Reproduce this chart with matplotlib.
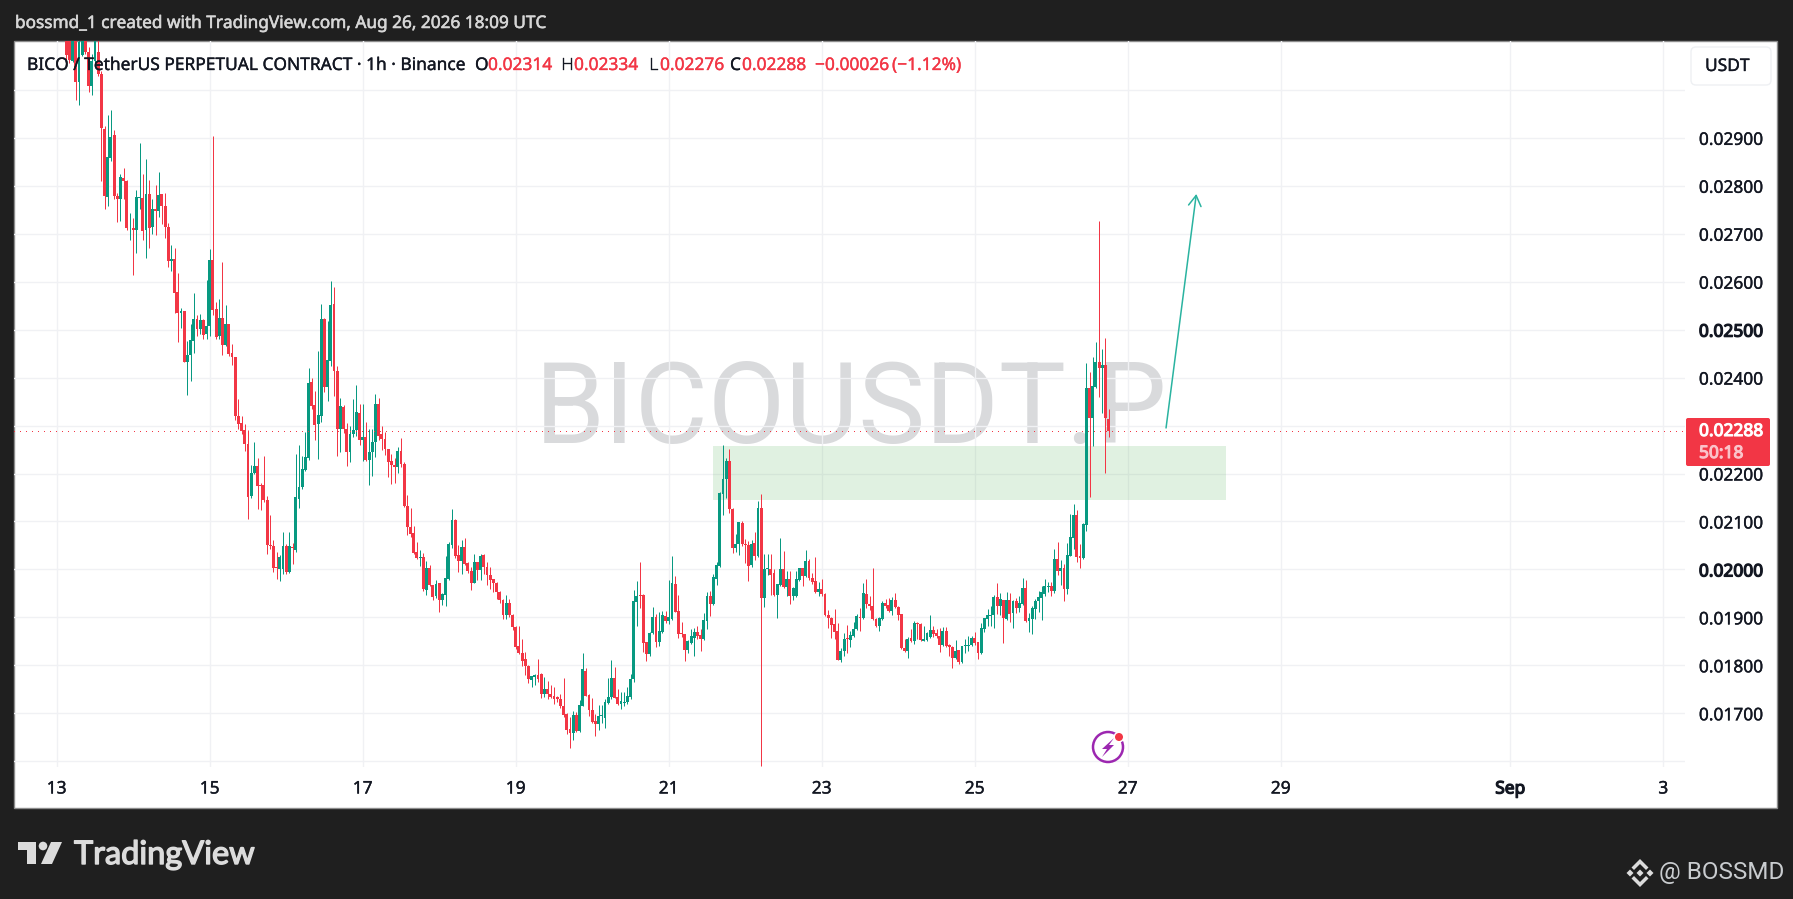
import matplotlib
matplotlib.use("Agg")
import matplotlib.pyplot as plt
import matplotlib.patheffects as pe
import numpy as np
from matplotlib.patches import Rectangle, FancyBboxPatch, Polygon, Circle

# hourly candles, prices in 1e-5 USDT, first candle is Aug 13 03:00
first_hour = 3
opens = [3105,3110,3061,3110,3016,3073,3110,3080,3008,3060,
 3080,3034,2919,2777,2858,2905,2779,2773,2817,2810,
 2711,2713,2708,2775,2775,2708,2782,2714,2752,2747,
 2782,2758,2715,2643,2648,2579,2534,2539,2433,2448,
 2477,2523,2501,2520,2491,2508,2645,2544,2486,2525,
 2468,2511,2451,2444,2319,2305,2290,2262,2154,2201,
 2215,2176,2176,2145,2051,2049,2005,2001,2001,2049,
 1995,2047,2041,2147,2171,2208,2232,2390,2343,2304,
 2321,2522,2381,2435,2553,2413,2293,2338,2293,2244,
 2283,2290,2327,2269,2276,2229,2244,2265,2345,2283,
 2272,2251,2227,2218,2213,2247,2220,2132,2088,2076,
 2036,2023,2026,1958,2002,1968,1944,1971,1936,1947,
 1981,2052,2104,2031,2017,2047,2014,1997,1972,2015,
 1998,2031,2005,1988,1980,1972,1953,1937,1906,1931,
 1906,1880,1840,1826,1813,1798,1770,1775,1779,1782,
 1741,1751,1741,1736,1734,1730,1716,1699,1668,1659,
 1697,1664,1716,1789,1739,1707,1683,1677,1695,1691,
 1722,1733,1773,1734,1720,1722,1723,1734,1772,1933,
 1947,1947,1848,1824,1868,1900,1849,1870,1902,1893,
 1897,1970,1914,1867,1866,1831,1847,1858,1869,1863,
 1855,1893,1945,1928,1981,2008,2157,2188,2226,2127,
 2045,2054,2097,2054,2051,2010,2055,2029,2129,1941,
 2000,2001,1992,1947,1968,2001,1963,1980,1945,1945,
 1978,2003,1986,2017,1983,1975,1952,1959,1949,1905,
 1899,1886,1871,1812,1829,1856,1852,1862,1875,1901,
 1898,1949,1928,1924,1897,1881,1897,1929,1926,1914,
 1936,1922,1907,1837,1829,1856,1850,1888,1886,1851,
 1852,1860,1874,1867,1861,1843,1872,1843,1838,1816,
 1831,1806,1840,1841,1843,1856,1848,1826,1876,1897,
 1903,1904,1942,1924,1936,1897,1936,1909,1935,1920,
 1928,1961,1893,1897,1918,1934,1941,1949,1964,1965,
 1954,2022,1997,2004,1959,2029,2065,2113,2027,2024,
 2093,2379,2316,2381,2433,2421,2426,2314]
highs = [3120,3130,3130,3130,3125,3130,3130,3090,3075,3125,
 3115,3040,2925,2947,2959,2917,2785,2824,2838,2813,
 2744,2733,2792,2890,2824,2855,2813,2773,2801,2829,
 2782,2784,2723,2676,2671,2619,2546,2539,2477,2511,
 2577,2530,2532,2522,2603,2668,2903,2558,2563,2642,
 2551,2511,2470,2444,2355,2320,2303,2290,2217,2265,
 2232,2180,2236,2153,2114,2061,2036,2030,2079,2054,
 2079,2056,2241,2260,2236,2286,2421,2400,2372,2456,
 2554,2525,2518,2601,2588,2425,2358,2342,2306,2300,
 2355,2384,2345,2345,2308,2293,2292,2366,2358,2300,
 2286,2252,2240,2232,2255,2274,2224,2156,2128,2090,
 2057,2040,2035,2018,2010,1968,1979,1971,1950,2029,
 2057,2127,2106,2050,2062,2065,2016,2005,2033,2016,
 2033,2033,2015,2006,1981,1973,1955,1939,1946,1938,
 1908,1882,1881,1854,1827,1801,1778,1782,1813,1784,
 1775,1768,1759,1754,1737,1741,1773,1700,1692,1704,
 1702,1727,1826,1794,1740,1732,1699,1718,1718,1729,
 1773,1811,1796,1751,1744,1744,1754,1782,1957,1975,
 2015,1949,1848,1869,1922,1907,1911,1914,1914,1977,
 2027,1987,1947,1890,1866,1852,1875,1877,1881,1875,
 1909,1952,1956,1990,2015,2162,2259,2233,2251,2129,
 2074,2099,2101,2063,2060,2062,2079,2143,2157,2033,
 2033,2033,2001,1970,2065,2038,1996,1997,1963,1996,
 2004,2003,2040,2022,1992,2025,1973,1981,1951,1915,
 1900,1918,1888,1837,1868,1885,1872,1890,1907,1920,
 1971,1980,1945,2003,1898,1900,1935,1938,1940,1942,
 1951,1924,1908,1855,1859,1876,1893,1891,1888,1883,
 1869,1905,1881,1876,1877,1879,1879,1845,1841,1852,
 1831,1841,1855,1862,1861,1869,1849,1888,1899,1917,
 1924,1947,1972,1950,1937,1952,1951,1936,1940,1945,
 1982,1978,1909,1923,1938,1956,1966,1980,1973,1973,
 2042,2058,2020,2011,2056,2115,2136,2124,2053,2097,
 2431,2412,2444,2475,2727,2459,2483,2334]
lows = [3063,3056,3058,2978,2969,3070,3075,2995,2990,3050,
 3030,2811,2751,2758,2851,2773,2724,2727,2772,2708,
 2687,2615,2659,2751,2687,2649,2670,2699,2697,2736,
 2720,2692,2631,2622,2534,2475,2504,2432,2364,2393,
 2451,2487,2490,2480,2480,2487,2530,2480,2480,2447,
 2465,2445,2426,2312,2293,2283,2248,2106,2149,2199,
 2127,2124,2140,2033,2043,1995,1981,1975,1991,1991,
 1993,2011,2036,2129,2167,2206,2228,2335,2269,2231,
 2308,2370,2352,2425,2362,2236,2244,2285,2215,2224,
 2276,2278,2260,2227,2226,2177,2195,2234,2270,2250,
 2238,2193,2179,2180,2201,2213,2130,2071,2068,2033,
 2021,2008,1956,1947,1965,1936,1940,1911,1925,1924,
 1978,2045,2024,1995,1990,2010,1993,1957,1971,1977,
 1978,1991,1968,1960,1953,1939,1929,1896,1897,1901,
 1873,1834,1823,1798,1780,1763,1754,1758,1765,1732,
 1735,1730,1732,1720,1723,1711,1692,1657,1628,1645,
 1661,1662,1715,1736,1695,1680,1652,1665,1680,1670,
 1720,1730,1731,1718,1709,1715,1720,1730,1766,1883,
 1920,1827,1810,1819,1866,1838,1841,1868,1888,1886,
 1895,1911,1858,1860,1810,1825,1845,1819,1855,1830,
 1853,1876,1902,1925,1968,2005,2113,2148,2117,2034,
 2037,2030,2048,2013,1975,2005,2020,2025,1591,1922,
 1988,1947,1945,1899,1966,1961,1945,1928,1936,1943,
 1976,1966,1984,1978,1970,1950,1945,1945,1902,1877,
 1857,1855,1812,1807,1819,1825,1838,1860,1873,1871,
 1896,1919,1915,1895,1879,1872,1895,1920,1911,1906,
 1919,1895,1834,1827,1816,1848,1845,1855,1850,1850,
 1850,1858,1860,1856,1827,1841,1839,1819,1795,1814,
 1803,1804,1825,1830,1841,1843,1813,1824,1870,1883,
 1883,1878,1907,1905,1847,1895,1890,1878,1909,1911,
 1926,1891,1870,1866,1897,1911,1895,1945,1952,1945,
 1950,1989,1968,1935,1949,2027,2042,2016,2004,2022,
 2081,2151,2258,2378,2360,2327,2202,2276]
closes = [3073,3063,3110,3016,3100,3110,3080,3008,3060,3105,
 3034,2920,2779,2860,2902,2779,2773,2819,2810,2711,
 2713,2708,2777,2777,2706,2782,2713,2752,2747,2780,
 2758,2715,2643,2648,2577,2534,2538,2433,2447,2478,
 2523,2501,2520,2489,2508,2645,2541,2484,2525,2468,
 2511,2449,2444,2319,2303,2288,2262,2152,2201,2215,
 2175,2175,2145,2050,2049,2004,2002,2026,2049,1995,
 2049,2045,2151,2172,2210,2234,2389,2341,2301,2322,
 2523,2381,2436,2551,2414,2293,2340,2293,2244,2283,
 2290,2329,2269,2276,2229,2244,2265,2345,2279,2271,
 2251,2225,2217,2213,2248,2220,2132,2088,2074,2035,
 2024,2025,1959,2002,1967,1943,1970,1936,1948,1982,
 2054,2104,2029,2017,2047,2012,1996,1972,2015,1998,
 2029,2005,1988,1979,1972,1952,1937,1906,1931,1906,
 1880,1839,1826,1810,1798,1772,1777,1779,1772,1741,
 1751,1741,1734,1729,1729,1715,1697,1666,1659,1697,
 1664,1718,1793,1737,1706,1682,1677,1695,1696,1723,
 1734,1773,1732,1720,1725,1724,1736,1772,1935,1945,
 1945,1847,1824,1868,1900,1849,1871,1904,1893,1900,
 1972,1912,1865,1865,1831,1850,1861,1869,1862,1855,
 1895,1945,1928,1985,2009,2160,2188,2226,2126,2045,
 2054,2098,2053,2051,2008,2054,2027,2129,1940,2001,
 2001,1989,1947,1970,2001,1963,1980,1945,1961,1980,
 2003,1986,2017,1982,1974,1952,1959,1949,1904,1898,
 1884,1869,1812,1829,1855,1854,1863,1875,1902,1899,
 1951,1928,1923,1897,1881,1898,1929,1924,1913,1936,
 1921,1906,1836,1829,1855,1850,1888,1886,1852,1854,
 1868,1874,1866,1861,1843,1871,1841,1838,1816,1829,
 1806,1840,1841,1843,1856,1847,1826,1878,1898,1904,
 1905,1943,1924,1938,1899,1936,1908,1935,1920,1929,
 1961,1893,1898,1920,1935,1942,1952,1965,1966,1954,
 2022,1997,2002,1959,2030,2067,2113,2025,2024,2095,
 2379,2316,2383,2433,2421,2426,2315,2288]

# x axis, hours since Aug 13 00:00
date_hours = [0, 48, 96, 144, 192, 240, 288, 336, 384, 456, 504]
date_labels = ['13', '15', '17', '19', '21', '23', '25', '27', '29', 'Sep', '3']
price_ticks = [1600, 1700, 1800, 1900, 2000, 2100, 2200, 2300, 2400, 2500, 2600, 2700, 2800, 2900, 3000]
no_label = [1600, 2300, 3000]
bold_prices = [2000, 2500]

last_price = 2288
zone_hours = [206.0, 366.7]
zone_prices = [2145, 2257]
arrow_hours = [348.0, 357.5]
arrow_prices = [2295, 2783]

RED = '#f23645'
GREEN = '#089981'
DARK = '#1f1f1f'
INK = '#131722'
GRID = '#f0f1f4'
W, H = 1793, 899

plt.rcParams['font.family'] = 'Noto Sans'


def heavy(txt, col, w=0.7):
    # the installed faces have no usable bold here, so thicken the outline
    txt.set_path_effects([pe.withStroke(linewidth=w, foreground=col)])


fig = plt.figure(figsize=(W / 100, H / 100), dpi=100, facecolor=DARK)

# page background, in pixels
bg = fig.add_axes([0, 0, 1, 1], zorder=0)
bg.set_xlim(0, W)
bg.set_ylim(H, 0)
bg.axis('off')
bg.add_patch(Rectangle((14, 41), 1763, 767, fc='white', ec='#8c8c8c', lw=1))

# price pane
left, right, top, bottom = 14, 1685, 41, 767
ax = fig.add_axes([left / W, 1 - bottom / H, (right - left) / W, (bottom - top) / H], zorder=1)
ax.patch.set_alpha(0)
ax.set_xlim(-13.4, 510.8)
ax.set_ylim(1588, 3102)
for s in ax.spines.values():
    s.set_visible(False)

ax.set_xticks(date_hours)
ax.set_xticklabels(date_labels, fontsize=12.5, color=INK)
ax.yaxis.tick_right()
ax.set_yticks(price_ticks)
ax.set_yticklabels(['' if p in no_label else '%.5f' % (p * 1e-5) for p in price_ticks],
                   fontsize=12.5, color=INK)
ax.tick_params(axis='both', length=0)
ax.tick_params(axis='y', pad=10)
ax.tick_params(axis='x', pad=9)
for lab, txt in zip(ax.get_xticklabels(), date_labels):
    heavy(lab, INK, 0.9 if txt == 'Sep' else 0.25)
for lab, p in zip(ax.get_yticklabels(), price_ticks):
    heavy(lab, INK, 0.9 if p in bold_prices else 0.25)
ax.grid(True, color=GRID, lw=1)
ax.set_axisbelow(True)

hours = first_hour + np.arange(len(opens))
o = np.array(opens, float)
c = np.array(closes, float)
colors = np.where(c < o, RED, GREEN)

ax.add_patch(Rectangle((zone_hours[0], zone_prices[0]), zone_hours[1] - zone_hours[0],
                       zone_prices[1] - zone_prices[0], fc='#4caf50', alpha=0.17, lw=0, zorder=1.5))
wicks = ax.vlines(hours, lows, highs, colors=colors, lw=0.72, zorder=2)
wicks.set_snap(True)
ax.bar(hours, np.maximum(np.abs(c - o), 2), bottom=np.minimum(o, c), width=0.9, color=colors, lw=0, zorder=2.5)
price_line = ax.axhline(last_price, color=RED, lw=0.72, ls=(0, (1, 5.2)), zorder=3)
price_line.set_antialiased(False)
ax.annotate('', xy=(arrow_hours[1], arrow_prices[1]), xytext=(arrow_hours[0], arrow_prices[0]),
            arrowprops=dict(arrowstyle='->,head_length=0.5,head_width=0.3', color='#2ab3a0', lw=1.1,
                            shrinkA=0, shrinkB=0, mutation_scale=15), zorder=4)

# watermark goes between page and candles
bg.text(851, 443, 'BICOUSDT.P', fontsize=81, family='Roboto', color='#d9dadc', ha='center', va='baseline')

# texts and logos on top, in pixels
over = fig.add_axes([0, 0, 1, 1], zorder=2)
over.set_xlim(0, W)
over.set_ylim(H, 0)
over.axis('off')
over.patch.set_alpha(0)

t = over.text(15, 23, 'bossmd_1 created with TradingView.com, Aug 26, 2026 18:09 UTC',
              fontsize=12.4, color='#d6d6d6', va='center')
heavy(t, '#d6d6d6', 0.4)

t = over.text(27, 65, 'BICO / TetherUS PERPETUAL CONTRACT · 1h · Binance', fontsize=12.5, color=INK, va='center')
heavy(t, INK, 0.25)
legend_bits = [(475, 'O', INK), (488, '0.02314', RED), (561, 'H', INK), (574, '0.02334', RED),
               (649, 'L', INK), (660, '0.02276', RED), (730, 'C', INK), (742, '0.02288', RED),
               (815, '−0.00026', RED), (892, '(−1.12%)', RED)]
for xp, txt, col in legend_bits:
    t = over.text(xp, 65, txt, fontsize=12.5, color=col, va='center')
    heavy(t, col, 0.25)

# USDT button
over.add_patch(FancyBboxPatch((1694, 50), 74, 32, boxstyle='round,pad=3,rounding_size=5', fc='white', ec='#eef0f3', lw=1))
t = over.text(1705, 66, 'USDT', fontsize=12.5, color=INK, va='center')
heavy(t, INK, 0.25)

# last price tag
over.add_patch(FancyBboxPatch((1687, 419), 82, 46, boxstyle='round,pad=1,rounding_size=2', fc=RED, ec='none'))
t = over.text(1699, 431, '0.02288', fontsize=12.5, color='white', va='center')
heavy(t, 'white', 0.8)
t = over.text(1699, 453, '50:18', fontsize=12.5, color='#fbc4ca', va='center')
heavy(t, '#fbc4ca', 0.8)

# alert icon
over.add_patch(Circle((1108, 747), 15, fc='none', ec='#9c27b0', lw=1.8))
over.add_patch(Polygon([(1114, 738), (1102, 749), (1107, 749), (1102, 757), (1114, 745), (1109, 745)], fc='#9c27b0', ec='none'))
over.add_patch(Circle((1119, 737), 5.5, fc='white', ec='none'))
over.add_patch(Circle((1119, 737), 4, fc=RED, ec='none'))

# TradingView logo
LOGO = '#dcdcdc'
over.add_patch(Polygon([(18, 842), (36, 842), (36, 864), (27, 864), (27, 850), (18, 850)], fc=LOGO, ec='none'))
over.add_patch(Circle((43, 846), 4.3, fc=LOGO, ec='none'))
over.add_patch(Polygon([(51, 842), (62, 842), (52, 864), (41, 864)], fc=LOGO, ec='none'))
t = over.text(74, 864, 'TradingView', fontsize=23.4, family='Lato', color=LOGO, va='baseline')
heavy(t, LOGO, 1.0)

# Binance mark and handle
cx, cy = 1640, 873
for dx, dy in [(0, 0), (-10, 0), (10, 0)]:
    over.add_patch(Polygon([(cx + dx, cy + dy - 3.5), (cx + dx + 3.5, cy + dy), (cx + dx, cy + dy + 3.5), (cx + dx - 3.5, cy + dy)],
                           fc=LOGO, ec='none'))
for sgn in [-1, 1]:
    over.add_patch(Polygon([(cx, cy + sgn * 14), (cx + 8.5, cy + sgn * 5.5), (cx + 6, cy + sgn * 3), (cx, cy + sgn * 9),
                            (cx - 6, cy + sgn * 3), (cx - 8.5, cy + sgn * 5.5)], fc=LOGO, ec='none'))
over.text(1659, 873, '@ BOSSMD', fontsize=17.5, family='Roboto', color='#c9cccf', va='center')

fig.savefig('out.png', dpi=100, facecolor=DARK)
